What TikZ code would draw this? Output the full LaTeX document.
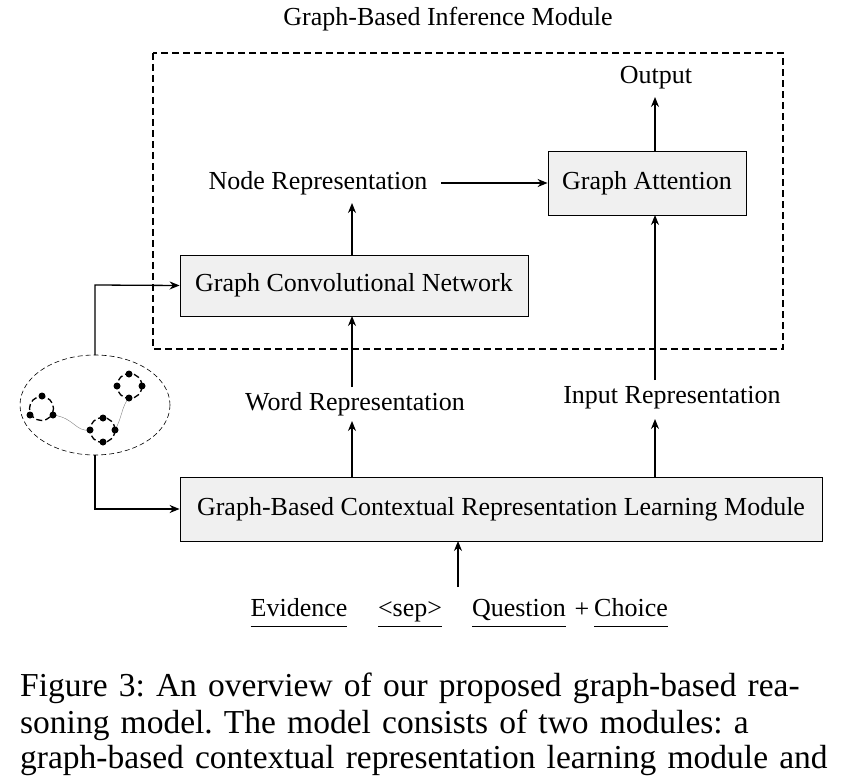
\documentclass[tikz,border=0pt]{standalone}
\usepackage{fontspec}
\setmainfont{Liberation Serif}
\usetikzlibrary{arrows.meta}
\begin{document}
\begin{tikzpicture}[x=1pt,y=-1pt,
  lbl/.style={font=\fontsize{26}{30}\selectfont,inner sep=1pt},
  box/.style={draw,fill=gray!12,line width=0.8pt,font=\fontsize{26}{30}\selectfont},
  arr/.style={-{Stealth[length=10pt,width=8pt]},line width=1.3pt},
  gn/.style={circle,fill=black,inner sep=0pt,minimum size=7pt},
  capline/.style={font=\fontsize{33.5}{38}\selectfont,text width=808pt,inner sep=0pt,anchor=west}]
\useasboundingbox (0,0) rectangle (847,781);
\draw[line width=1.4pt,dash pattern=on 7pt off 4pt] (153,53) rectangle (783,349);
\node[lbl] (title) at (448,19) {Graph-Based Inference Module};
\node[box,minimum width=348pt,minimum height=61pt] (gcn) at (354,285.5) {Graph Convolutional Network};
\node[box,minimum width=198pt,minimum height=64pt] (ga) at (647,183) {Graph Attention};
\node[box,minimum width=642pt,minimum height=64pt] (ctx) at (501,509) {Graph-Based Contextual Representation Learning Module};
\node[lbl] (out) at (656,78) {Output};
\node[lbl] (nrep) at (318,183) {Node Representation};
\node[lbl] (wrep) at (355,404) {Word Representation};
\node[lbl] (irep) at (672,398) {Input Representation};
\node[lbl] (ev) at (299,611) {\underline{\strut Evidence}};
\node[lbl] (sep) at (410,611) {\underline{\strut <sep>}};
\node[lbl] (q) at (519,611) {\underline{\strut Question}};
\node[lbl] (plus) at (582,611) {\strut+};
\node[lbl] (ch) at (631,611) {\underline{\strut Choice}};
\coordinate (in) at (458,587);
\draw[arr] (in) -- (458,541);
\draw[arr] (352,477) -- (352,421);
\draw[arr] (352,387) -- (352,316);
\draw[arr] (352,255) -- (352,203);
\draw[arr] (441,183) -- (ga.west);
\draw[arr] (655,477) -- (655,419);
\draw[arr] (655,380) -- (655,215);
\draw[arr] (655,151) -- (655,97);
% graph icon
\draw[line width=0.6pt,dash pattern=on 5pt off 3pt] (95,405) ellipse (75 and 50);
\coordinate (gt) at (95,355);
\coordinate (gb) at (95,455);
\draw[arr] (gt) -- (95,285) -- (gcn.west);
\draw[arr] (gb) -- (95,509) -- (ctx.west);
\draw[line width=1.3pt,dash pattern=on 6pt off 3pt] (41.5,408.5) circle (12);
\draw[line width=1.3pt,dash pattern=on 6pt off 3pt] (129.5,386) circle (12.5);
\draw[line width=1.3pt,dash pattern=on 6pt off 3pt] (102.5,430) circle (12.5);
\draw[gray,line width=0.4pt] (53,415) .. controls (75,418) and (75,432) .. (90,430);
\draw[gray,line width=0.4pt] (115,430) .. controls (122,418) and (122,405) .. (129,398);
\foreach \p/\q in {42/396,30/415,53/415,129/374,117/386,142/386,129/398,103/418,90/430,115/430,103/442}
  \node[gn] at (\p,\q) {};
% caption
\node[capline] (c1) at (20,688) {\frenchspacing\parfillskip=0pt Figure 3: An overview of our proposed graph-based rea-\par};
\node[capline] (c2) at (20,725) {\frenchspacing\parfillskip=0pt soning model. The model consists of two modules: a\par};
\node[capline] (c3) at (20,760) {\frenchspacing\parfillskip=0pt graph-based contextual representation learning module and\par};
\end{tikzpicture}
\end{document}
